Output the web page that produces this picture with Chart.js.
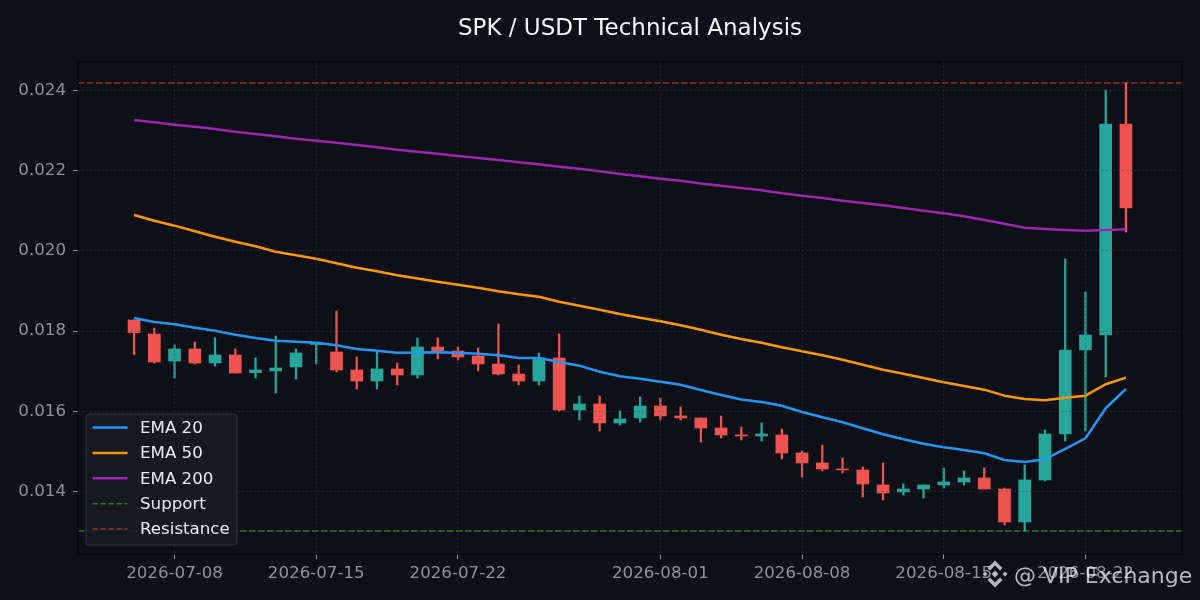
<!DOCTYPE html>
<html>
<head>
<meta charset="utf-8">
<title>SPK / USDT Technical Analysis</title>
<script src="https://cdn.jsdelivr.net/npm/chart.js@4"></script>
<style>
    html, body { margin: 0; padding: 0; background: #0d1117; }
    canvas { display: block; }
</style>
</head>
<body>
<canvas id="chart" width="1200" height="600"></canvas>
<script>
const dates = [
    '2026-07-06', '2026-07-07', '2026-07-08', '2026-07-09', '2026-07-10', '2026-07-11', '2026-07-12', '2026-07-13', '2026-07-14', '2026-07-15',
    '2026-07-16', '2026-07-17', '2026-07-18', '2026-07-19', '2026-07-20', '2026-07-21', '2026-07-22', '2026-07-23', '2026-07-24', '2026-07-25',
    '2026-07-26', '2026-07-27', '2026-07-28', '2026-07-29', '2026-07-30', '2026-07-31', '2026-08-01', '2026-08-02', '2026-08-03', '2026-08-04',
    '2026-08-05', '2026-08-06', '2026-08-07', '2026-08-08', '2026-08-09', '2026-08-10', '2026-08-11', '2026-08-12', '2026-08-13', '2026-08-14',
    '2026-08-15', '2026-08-16', '2026-08-17', '2026-08-18', '2026-08-19', '2026-08-20', '2026-08-21', '2026-08-22', '2026-08-23', '2026-08-24'
];
const xTickLabels = ['2026-07-08', '2026-07-15', '2026-07-22', '2026-08-01', '2026-08-08', '2026-08-15', '2026-08-22'];

const opens = [
    0.018277, 0.017928, 0.017254, 0.017554, 0.017204, 0.017404, 0.016962, 0.017005, 0.017105, 0.017666,
    0.017479, 0.017030, 0.016755, 0.017055, 0.016905, 0.017604, 0.017504, 0.017379, 0.017179, 0.016930,
    0.016755, 0.017329, 0.016032, 0.016182, 0.015708, 0.015833, 0.016132, 0.015883, 0.015833, 0.015583,
    0.015409, 0.015384, 0.015409, 0.014960, 0.014710, 0.014561, 0.014536, 0.014162, 0.013987, 0.014062,
    0.014162, 0.014237, 0.014337, 0.014062, 0.013239, 0.014287, 0.015434, 0.017529, 0.017903, 0.023165
];
const highs = [
    0.018277, 0.018077, 0.017653, 0.017728, 0.017828, 0.017554, 0.017329, 0.017878, 0.017554, 0.017703,
    0.018501, 0.017354, 0.017479, 0.017204, 0.017828, 0.017828, 0.017604, 0.017579, 0.018177, 0.017154,
    0.017454, 0.017928, 0.016381, 0.016381, 0.016007, 0.016356, 0.016331, 0.016107, 0.015833, 0.015883,
    0.015608, 0.015708, 0.015558, 0.015010, 0.015159, 0.014835, 0.014611, 0.014710, 0.014187, 0.014162,
    0.014586, 0.014511, 0.014586, 0.014087, 0.014661, 0.015533, 0.019798, 0.018975, 0.024013, 0.024188
];
const lows = [
    0.017411, 0.017204, 0.016830, 0.017179, 0.017130, 0.016955, 0.016830, 0.016456, 0.016805, 0.017179,
    0.016980, 0.016556, 0.016556, 0.016656, 0.016830, 0.017304, 0.017279, 0.017005, 0.016905, 0.016656,
    0.016656, 0.016007, 0.015783, 0.015508, 0.015658, 0.015733, 0.015783, 0.015783, 0.015234, 0.015334,
    0.015284, 0.015259, 0.014810, 0.014361, 0.014511, 0.014461, 0.013863, 0.013788, 0.013912, 0.013838,
    0.014087, 0.014162, 0.014062, 0.013164, 0.013015, 0.014262, 0.015259, 0.015508, 0.016855, 0.020471
];
const closes = [
    0.017960, 0.017229, 0.017554, 0.017204, 0.017404, 0.016955, 0.017030, 0.017080, 0.017454, 0.017691,
    0.017030, 0.016755, 0.017055, 0.016905, 0.017604, 0.017504, 0.017354, 0.017179, 0.016930, 0.016755,
    0.017329, 0.016032, 0.016182, 0.015708, 0.015808, 0.016132, 0.015883, 0.015833, 0.015583, 0.015409,
    0.015384, 0.015434, 0.014960, 0.014710, 0.014561, 0.014536, 0.014187, 0.013963, 0.014062, 0.014162,
    0.014237, 0.014337, 0.014062, 0.013239, 0.014287, 0.015434, 0.017529, 0.017903, 0.023165, 0.021070
];

const ema20 = [
    0.018327, 0.018227, 0.018170, 0.018085, 0.018010, 0.017910, 0.017828, 0.017761, 0.017736, 0.017711,
    0.017646, 0.017554, 0.017511, 0.017461, 0.017466, 0.017471, 0.017461, 0.017436, 0.017396, 0.017329,
    0.017329, 0.017229, 0.017137, 0.016987, 0.016873, 0.016813, 0.016738, 0.016663, 0.016531, 0.016406,
    0.016294, 0.016232, 0.016139, 0.015982, 0.015850, 0.015725, 0.015576, 0.015426, 0.015301, 0.015192,
    0.015102, 0.015035, 0.014953, 0.014785, 0.014735, 0.014803, 0.015060, 0.015327, 0.016075, 0.016556
];
const ema50 = [
    0.020895, 0.020753, 0.020629, 0.020489, 0.020354, 0.020230, 0.020115, 0.019980, 0.019890, 0.019806,
    0.019691, 0.019581, 0.019491, 0.019392, 0.019312, 0.019232, 0.019157, 0.019082, 0.018993, 0.018918,
    0.018858, 0.018733, 0.018633, 0.018534, 0.018426, 0.018334, 0.018244, 0.018145, 0.018035, 0.017910,
    0.017803, 0.017711, 0.017596, 0.017496, 0.017396, 0.017287, 0.017162, 0.017037, 0.016938, 0.016830,
    0.016723, 0.016631, 0.016539, 0.016389, 0.016307, 0.016274, 0.016339, 0.016389, 0.016673, 0.016838
];
const ema200 = [
    0.023265, 0.023207, 0.023148, 0.023098, 0.023040, 0.022973, 0.022916, 0.022858, 0.022798, 0.022749,
    0.022699, 0.022641, 0.022584, 0.022524, 0.022472, 0.022424, 0.022367, 0.022317, 0.022267, 0.022210,
    0.022160, 0.022100, 0.022050, 0.021985, 0.021918, 0.021861, 0.021801, 0.021751, 0.021681, 0.021626,
    0.021569, 0.021512, 0.021437, 0.021377, 0.021320, 0.021252, 0.021195, 0.021138, 0.021070, 0.021003,
    0.020938, 0.020863, 0.020771, 0.020679, 0.020579, 0.020546, 0.020521, 0.020504, 0.020521, 0.020539
];
const supportLevel = 0.013015;
const resistanceLevel = 0.024188;

const upColor = '#26a69a';
const downColor = '#ef5350';
const textColor = '#8b949e';
const font = 'DejaVu Sans';
const xMin = -2.77;
const xMax = 51.77;

const candleColors = opens.map((o, i) => (closes[i] >= o ? upColor : downColor));
const toPoints = values => values.map((v, i) => ({ x: i, y: v }));
const levelLine = level => [{ x: xMin, y: level }, { x: xMax, y: level }];

const lineStyle = { type: 'line', pointRadius: 0, borderWidth: 2.5, tension: 0, borderJoinStyle: 'round', fill: false };
const levelStyle = { type: 'line', pointRadius: 0, borderWidth: 1.5, borderDash: [6.5, 2.5], fill: false };

const watermarkAndLegend = {
    id: 'watermarkAndLegend',
    beforeDraw(chart) {
        const { ctx, width, height } = chart;
        ctx.save();
        ctx.fillStyle = '#0d1117';
        ctx.fillRect(0, 0, width, height);
        ctx.restore();
    },
    afterDraw(chart) {
        const { ctx, chartArea: a } = chart;
        ctx.save();

        // spines
        ctx.strokeStyle = '#000000';
        ctx.lineWidth = 1;
        ctx.strokeRect(a.left, a.top, a.right - a.left, a.bottom - a.top);

        // legend box
        ctx.fillStyle = 'rgba(22, 27, 34, 0.9)';
        ctx.strokeStyle = '#30363d';
        ctx.beginPath();
        ctx.roundRect(86, 414, 151, 131, 3);
        ctx.fill();
        ctx.stroke();

        const items = [
            ['EMA 20', '#2196f3', []],
            ['EMA 50', '#ff9800', []],
            ['EMA 200', '#9c27b0', []],
            ['Support', 'rgba(76, 175, 80, 0.6)', [5.5, 2.5]],
            ['Resistance', 'rgba(244, 67, 54, 0.6)', [5.5, 2.5]]
        ];
        ctx.font = `16.67px "${font}"`;
        ctx.textBaseline = 'middle';
        items.forEach((item, i) => {
            const y = 427.5 + i * 25.4;
            ctx.strokeStyle = item[1];
            ctx.lineWidth = item[2].length ? 1.5 : 2.5;
            ctx.setLineDash(item[2]);
            ctx.beginPath();
            ctx.moveTo(92.5, y);
            ctx.lineTo(127.5, y);
            ctx.stroke();
            ctx.setLineDash([]);
            ctx.fillStyle = '#e6edf3';
            ctx.fillText(item[0], 140, y + 1);
        });

        // watermark
        ctx.fillStyle = 'rgba(255, 255, 255, 0.7)';
        ctx.font = `22px "${font}"`;
        ctx.textBaseline = 'alphabetic';
        ctx.fillText('@ VIP Exchange', 1014, 583);

        const poly = pts => {
            ctx.beginPath();
            pts.forEach((p, i) => (i ? ctx.lineTo(995 + p[0], 574 + p[1]) : ctx.moveTo(995 + p[0], 574 + p[1])));
            ctx.closePath();
            ctx.fill();
        };
        poly([[0, -3.5], [3.5, 0], [0, 3.5], [-3.5, 0]]);
        poly([[-10, -2.5], [-7.5, 0], [-10, 2.5], [-12.5, 0]]);
        poly([[10, -2.5], [12.5, 0], [10, 2.5], [7.5, 0]]);
        poly([[0, -13.5], [7.5, -6], [5, -3.5], [0, -8.5], [-5, -3.5], [-7.5, -6]]);
        poly([[0, 13.5], [-7.5, 6], [-5, 3.5], [0, 8.5], [5, 3.5], [7.5, 6]]);

        ctx.restore();
    }
};

new Chart(document.getElementById('chart').getContext('2d'), {
    data: {
        datasets: [
            { ...lineStyle, label: 'EMA 20', data: toPoints(ema20), borderColor: '#2196f3', order: 3 },
            { ...lineStyle, label: 'EMA 50', data: toPoints(ema50), borderColor: '#ff9800', order: 2 },
            { ...lineStyle, label: 'EMA 200', data: toPoints(ema200), borderColor: '#9c27b0', order: 1 },
            { ...levelStyle, label: 'Support', data: levelLine(supportLevel), borderColor: 'rgba(76, 175, 80, 0.6)', order: 4 },
            { ...levelStyle, label: 'Resistance', data: levelLine(resistanceLevel), borderColor: 'rgba(244, 67, 54, 0.6)', order: 4 },
            {
                type: 'bar',
                label: 'Body',
                data: opens.map((o, i) => ({ x: i, y: [o, closes[i]] })),
                backgroundColor: candleColors,
                barThickness: 12,
                grouped: false,
                order: 5
            },
            {
                type: 'bar',
                label: 'Wick',
                data: lows.map((l, i) => ({ x: i, y: [l, highs[i]] })),
                backgroundColor: candleColors,
                barThickness: 1.6,
                grouped: false,
                order: 6
            }
        ]
    },
    options: {
        responsive: false,
        animation: false,
        layout: { padding: { right: 18 } },
        plugins: {
            legend: { display: false },
            tooltip: { enabled: false },
            title: {
                display: true,
                text: 'SPK / USDT Technical Analysis',
                color: '#f0f6fc',
                fullSize: false,
                font: { family: font, size: 23, weight: 'normal' },
                padding: { top: 15, bottom: 19.4 }
            }
        },
        scales: {
            x: {
                type: 'linear',
                offset: false,
                min: xMin,
                max: xMax,
                afterBuildTicks: scale => {
                    scale.ticks = xTickLabels.map(label => ({ value: dates.indexOf(label) }));
                },
                afterFit: scale => { scale.height = 46; },
                ticks: {
                    autoSkip: false,
                    maxRotation: 0,
                    padding: 5,
                    color: textColor,
                    font: { family: font, size: 16.67 },
                    callback: value => dates[value]
                },
                grid: {
                    offset: false,
                    color: 'rgba(60, 66, 74, 0.55)',
                    lineWidth: 1,
                    tickBorderDash: [],
                    tickColor: textColor,
                    tickLength: 5,
                    z: 1
                },
                border: { display: false, dash: [1.5, 2.5] }
            },
            y: {
                type: 'linear',
                min: 0.01244,
                max: 0.024711,
                afterFit: scale => { scale.width = 78; },
                ticks: {
                    stepSize: 0.002,
                    includeBounds: false,
                    padding: 7,
                    color: textColor,
                    font: { family: font, size: 16.67 },
                    callback: value => value.toFixed(3)
                },
                grid: {
                    color: 'rgba(60, 66, 74, 0.55)',
                    lineWidth: 1,
                    tickBorderDash: [],
                    tickColor: textColor,
                    tickLength: 5,
                    z: 1
                },
                border: { display: false, dash: [1.5, 2.5] }
            }
        }
    },
    plugins: [watermarkAndLegend]
});
</script>
</body>
</html>
